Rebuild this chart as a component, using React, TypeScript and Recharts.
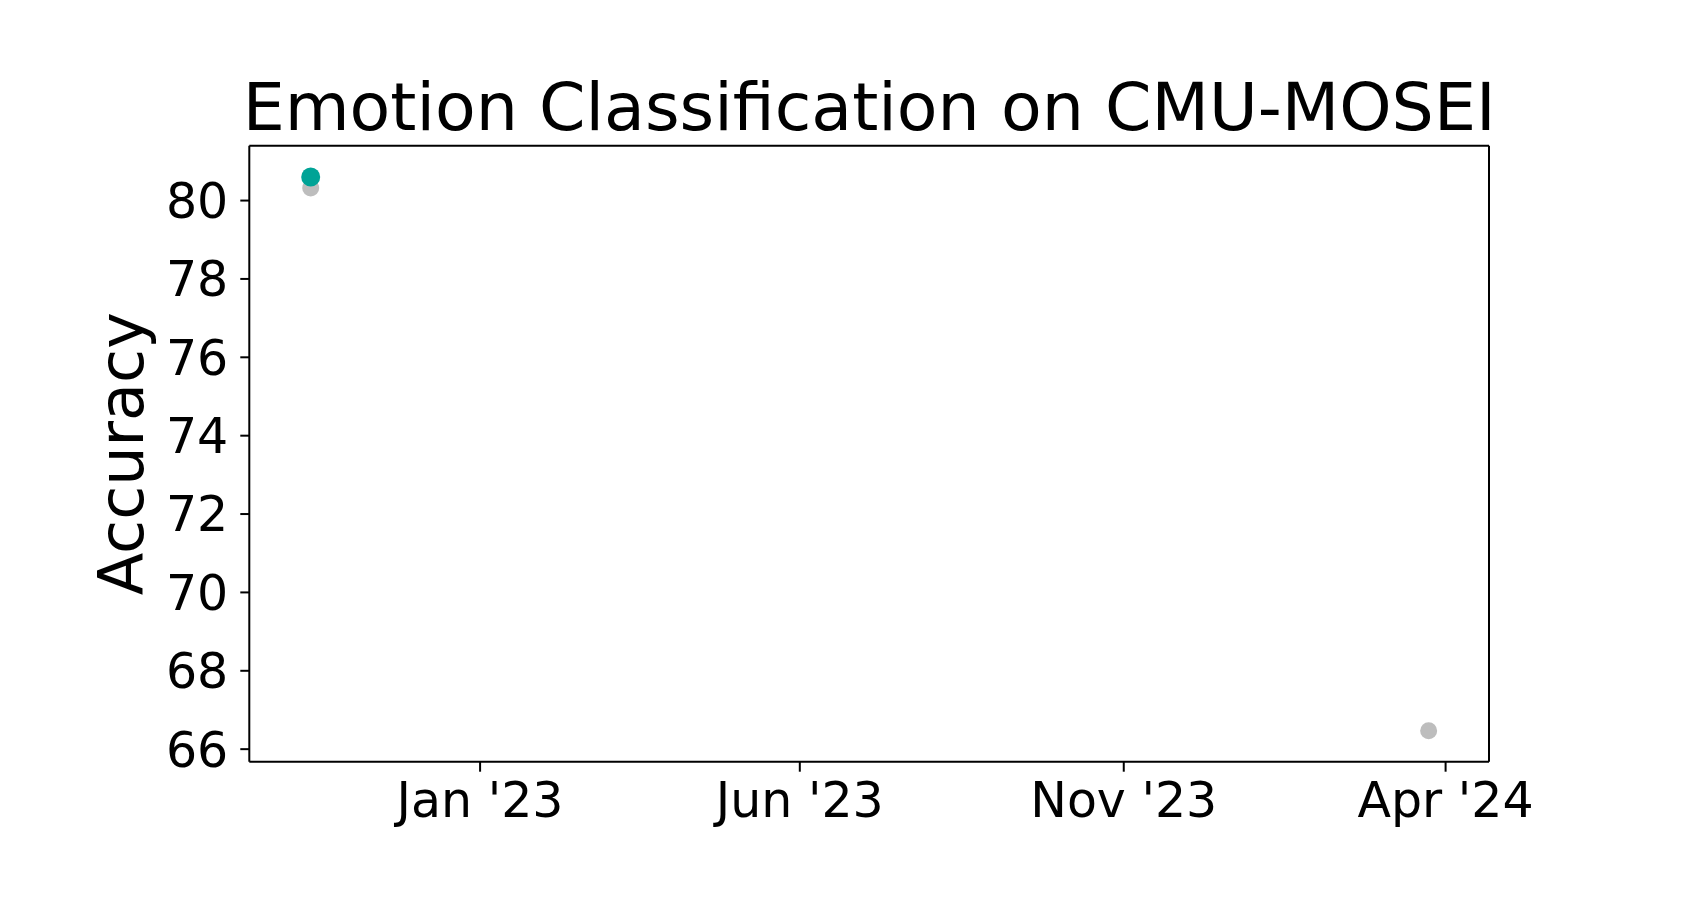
import React from 'react';
import { ScatterChart, Scatter, XAxis, YAxis } from 'recharts';

const grayDates = ['2022-10-13', '2024-03-24'];
const grayAccuracy = [80.32, 66.47];
const tealDates = ['2022-10-13'];
const tealAccuracy = [80.6];
const xTickDates = ['2023-01-01', '2023-06-01', '2023-11-01', '2024-04-01'];
const xTickLabels = ["Jan '23", "Jun '23", "Nov '23", "Apr '24"];
const yTicks = [66, 68, 70, 72, 74, 76, 78, 80];
const xDomainDates = ['2022-09-14T00:00:00Z', '2024-04-21T12:00:00Z'];
const yDomain = [65.68, 81.4];
const titleText = 'Emotion Classification on CMU-MOSEI';
const yLabelText = 'Accuracy';

const toMs = (d: string) => Date.parse(d.length === 10 ? d + 'T00:00:00Z' : d);

const grayData = grayDates.map((d, i) => ({ x: toMs(d), y: grayAccuracy[i] }));
const tealData = tealDates.map((d, i) => ({ x: toMs(d), y: tealAccuracy[i] }));
const xTicks = xTickDates.map(toMs);
const xLabelMap: Record<number, string> = {};
xTicks.forEach((t, i) => (xLabelMap[t] = xTickLabels[i]));
const xDomain = xDomainDates.map(toMs);

const FONT = '"DejaVu Sans", sans-serif';
const GRAY = '#bdbdbd';
const TEAL = '#00a396';

const dot = (color: string, r: number) => (props: any) =>
  <circle cx={props.cx} cy={props.cy} r={r} fill={color} stroke="none" />;
const noDot = () => <g />;

export default function App() {
  return (
    <div style={{ position: 'absolute', left: 0, top: 0, width: 1700, height: 900, background: '#fff' }}>
      <ScatterChart
        width={1700}
        height={900}
        margin={{ top: 144.7, right: 210, bottom: 0, left: 0 }}
        style={{ fontFamily: FONT }}
      >
        <XAxis
          dataKey="x"
          type="number"
          domain={xDomain}
          allowDataOverflow
          ticks={xTicks}
          tickFormatter={(v: number) => xLabelMap[v] ?? ''}
          height={138.3}
          axisLine={{ stroke: '#000', strokeWidth: 2 }}
          tickLine={{ stroke: '#000', strokeWidth: 2 }}
          tickSize={10}
          tickMargin={11}
          tick={{ fill: '#000', fontSize: 49, fontFamily: FONT }}
          interval={0}
        />
        <XAxis
          xAxisId="top"
          dataKey="x"
          orientation="top"
          type="number"
          domain={xDomain}
          allowDataOverflow
          height={1}
          tick={false}
          tickLine={false}
          axisLine={{ stroke: '#000', strokeWidth: 2 }}
          label={{
            content: (p: any) => {
              const vb = p.viewBox || {};
              return (
                <text
                  x={vb.x + vb.width / 2}
                  y={vb.y + vb.height - 15.7}
                  textAnchor="middle"
                  fontSize={66.6}
                  fontFamily={FONT}
                  fill="#000"
                >
                  {titleText}
                </text>
              );
            },
          }}
        />
        <YAxis
          dataKey="y"
          type="number"
          domain={yDomain}
          allowDataOverflow
          ticks={yTicks}
          width={249.3}
          axisLine={{ stroke: '#000', strokeWidth: 2 }}
          tickLine={{ stroke: '#000', strokeWidth: 2 }}
          tickSize={9}
          tickMargin={12}
          tick={{ fill: '#000', fontSize: 49, fontFamily: FONT }}
          interval={0}
          label={{
            content: (p: any) => {
              const vb = p.viewBox || {};
              const cx = vb.x + 143;
              const cy = vb.y + vb.height / 2;
              return (
                <text
                  x={cx}
                  y={cy}
                  textAnchor="middle"
                  fontSize={62}
                  fontFamily={FONT}
                  fill="#000"
                  transform={`rotate(-90, ${cx}, ${cy})`}
                >
                  {yLabelText}
                </text>
              );
            },
          }}
        />
        <YAxis
          yAxisId="right"
          dataKey="y"
          orientation="right"
          type="number"
          domain={yDomain}
          allowDataOverflow
          width={1}
          tick={false}
          tickLine={false}
          axisLine={{ stroke: '#000', strokeWidth: 2 }}
        />
        <Scatter data={tealData} xAxisId="top" yAxisId="right" shape={noDot} isAnimationActive={false} />
        <Scatter data={grayData} fill={GRAY} shape={dot(GRAY, 8.5)} isAnimationActive={false} />
        <Scatter data={tealData} fill={TEAL} shape={dot(TEAL, 9.5)} isAnimationActive={false} />
      </ScatterChart>
    </div>
  );
}
